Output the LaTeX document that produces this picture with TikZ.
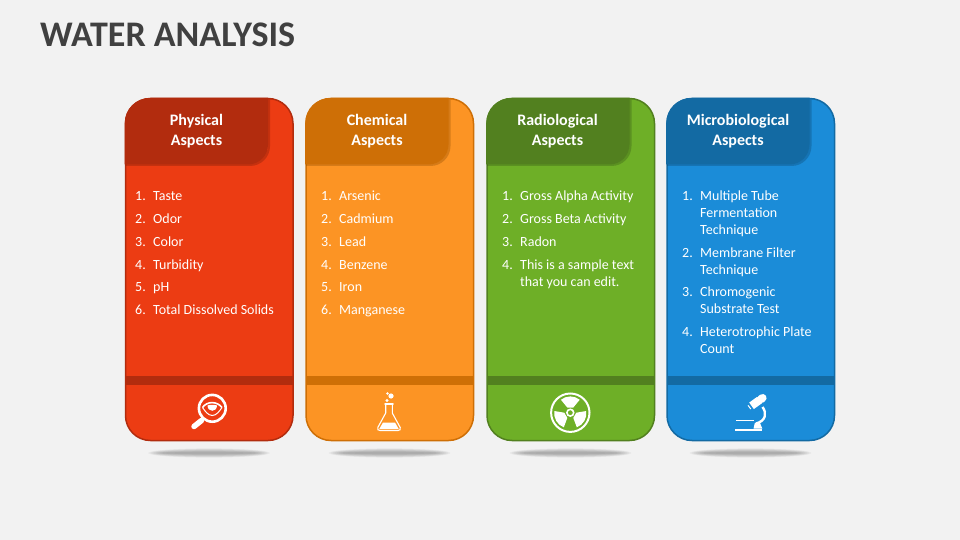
\documentclass[tikz,border=0pt]{standalone}
\usepackage{fontspec}
\setmainfont{Carlito}
\usetikzlibrary{calc}
\definecolor{bgcol}{HTML}{F2F2F2}
\definecolor{titlecol}{HTML}{404040}
\definecolor{redfill}{HTML}{EC3C13}
\definecolor{reddark}{HTML}{B22C0E}
\definecolor{orangefill}{HTML}{FC9424}
\definecolor{orangedark}{HTML}{CE6F06}
\definecolor{greenfill}{HTML}{6EAF27}
\definecolor{greendark}{HTML}{52801F}
\definecolor{bluefill}{HTML}{1B8CD8}
\definecolor{bluedark}{HTML}{136AA3}
\tikzset{
  headtext/.style={text=white, font=\fontsize{16}{20}\selectfont\bfseries, align=center, inner sep=0pt},
  itemtext/.style={text=white, font=\fontsize{14}{16.8}\selectfont, align=left, anchor=north west, inner sep=0pt},
  icon/.style={draw=white, fill=none, line width=2pt}
}
\begin{document}
\begin{tikzpicture}[x=1pt, y=-1pt]
\useasboundingbox (0,0) rectangle (960,540);
\fill [bgcol] (0,0) rectangle (960,540);
\node [anchor=base west, inner sep=0pt, text=titlecol, font=\fontsize{36}{40}\selectfont\bfseries] (title) at (40,46.5) {WATER ANALYSIS};

% cards
\foreach \x/\col in {125.5/red, 306/orange, 487/green, 667/blue} {
  \foreach \rx/\ry in {61/4.6, 59/4.1, 57/3.6, 55/3.1, 53/2.6, 51/2.1, 49/1.6, 47/1.1}
    \fill [black, opacity=.04] (\x+83.5,453) ellipse [x radius=\rx, y radius=\ry];
  \draw [draw=\col dark, line width=1.5pt, fill=\col fill, rounded corners=25pt] (\x,98.5) rectangle (\x+167.5,440.5);
  \fill [\col dark!70!black, opacity=.35] (\x,166) [rounded corners=20pt] -- (\x+144.5,166) [sharp corners] -- (\x+144.5,99.5) -- (\x+142,99.5) -- (\x+142,150) -- (\x,150) -- cycle;
  \fill [\col dark] (\x-.8,164.5) [rounded corners=20pt] -- (\x+142.5,164.5) [sharp corners] -- (\x+142.5,98) [rounded corners=25pt] -- (\x-.8,98) [sharp corners] -- cycle;
  \fill [\col dark] (\x,376) rectangle (\x+167.5,385);
}

% headers
\node [headtext] (physical) at (196.5,131) {Physical\\Aspects};
\node [headtext] (chemical) at (377,131) {Chemical\\Aspects};
\node [headtext] (radiological) at (557.5,131) {Radiological\\Aspects};
\node [headtext] (microbiological) at (738,131) {Microbiological\\Aspects};

% lists
\foreach \i/\y/\t in {1/189/Taste, 2/212/Odor, 3/235/Color, 4/258/Turbidity, 5/280/pH, 6/303/Total Dissolved Solids} {
  \node [itemtext] (physnum\i) at (135,\y) {\strut\i.};
  \node [itemtext] (phys\i) at (153,\y) {\strut\t};
}
\foreach \i/\y/\t in {1/189/Arsenic, 2/212/Cadmium, 3/235/Lead, 4/258/Benzene, 5/280/Iron, 6/303/Manganese} {
  \node [itemtext] (chemnum\i) at (321,\y) {\strut\i.};
  \node [itemtext] (chem\i) at (339,\y) {\strut\t};
}
\foreach \i/\y/\t in {1/189/Gross Alpha Activity, 2/212/Gross Beta Activity, 3/235/Radon, 4/258/{This is a sample text\\that you can edit.}} {
  \node [itemtext] (radnum\i) at (502,\y) {\strut\i.};
  \node [itemtext] (rad\i) at (520,\y) {\strut\t};
}
\foreach \i/\y/\t in {1/189/{Multiple Tube\\Fermentation\\Technique}, 2/246/{Membrane Filter\\Technique}, 3/285/{Chromogenic\\Substrate Test}, 4/325/{Heterotrophic Plate\\Count}} {
  \node [itemtext] (micnum\i) at (682,\y) {\strut\i.};
  \node [itemtext] (mic\i) at (700,\y) {\strut\t};
}

% magnifier with eye
\draw [icon, line width=2.6pt] (212.3,408.3) circle (13.4);
\draw [white, line width=1.6pt] (203,418) -- (199,422);
\draw [white, line width=5.5pt, line cap=round] (201.5,420.5) -- (194,426.5);
\draw [white, line width=1.6pt] (202.5,407.5) .. controls (207,401) and (217,401) .. (222,407.5);
\draw [white, line width=1pt] (202.5,407.5) .. controls (205,411) and (208,415.5) .. (212.3,415.5) .. controls (216.5,415.5) and (219.5,411) .. (222,407.5);
\fill [white] (207.5,405.5) .. controls (209.5,404.5) and (215,404.5) .. (217,405.5) .. controls (217,412.5) and (207.5,412.5) .. (207.5,405.5) -- cycle;

% flask
\draw [white, line width=1.1pt, line join=round] (385.7,404.5) -- (385.7,413) -- (377.8,427.5) .. controls (377,429.5) and (378,430.5) .. (380,430.5) -- (398,430.5) .. controls (400,430.5) and (401,429.5) .. (400.2,427.5) -- (392.3,413) -- (392.3,404.5);
\draw [white, line width=1.5pt, line cap=round] (385,404) -- (393,404);
\fill [white] (383,422.5) -- (395,422.5) -- (398.7,429) -- (379.3,429) -- cycle;
\fill [white] (391,396) circle (2.6);
\fill [white] (387.5,393.5) circle (1.4);
\fill [white] (387,400.5) circle (1.6);

% radiation sign
\draw [icon] (570.3,412.7) circle (19.2);
\foreach \a in {270, 30, 150}
  \fill [white] ($(570.3,412.7)+(\a-30:6)$) -- ($(570.3,412.7)+(\a-36:16)$) -- ($(570.3,412.7)+(\a-18:16.2)$) -- ($(570.3,412.7)+(\a:16.3)$) -- ($(570.3,412.7)+(\a+18:16.2)$) -- ($(570.3,412.7)+(\a+36:16)$) -- ($(570.3,412.7)+(\a+30:6)$) -- cycle;
\draw [white, line width=1.6pt] (570.3,412.7) circle (3.4);

% microscope
\fill [white] (735,428.6) rectangle (762.3,431.2);
\fill [white] (736,419.6) rectangle (753.5,421.4);
\fill [white] (753.5,428.6) -- (754.8,423) -- (760,423) -- (762.3,428.6) -- cycle;
\draw [white, line width=2.4pt] (762.5,407) .. controls (767,413) and (766,421) .. (756,423.5);
\draw [white, line width=8pt] (751.5,405.8) -- (759.6,400);
\draw [white, line width=8pt, line cap=round] (760.8,399.2) -- (762.6,398);
\draw [white, line width=4.5pt] (749,407.5) -- (749.8,406.9);
\end{tikzpicture}
\end{document}
